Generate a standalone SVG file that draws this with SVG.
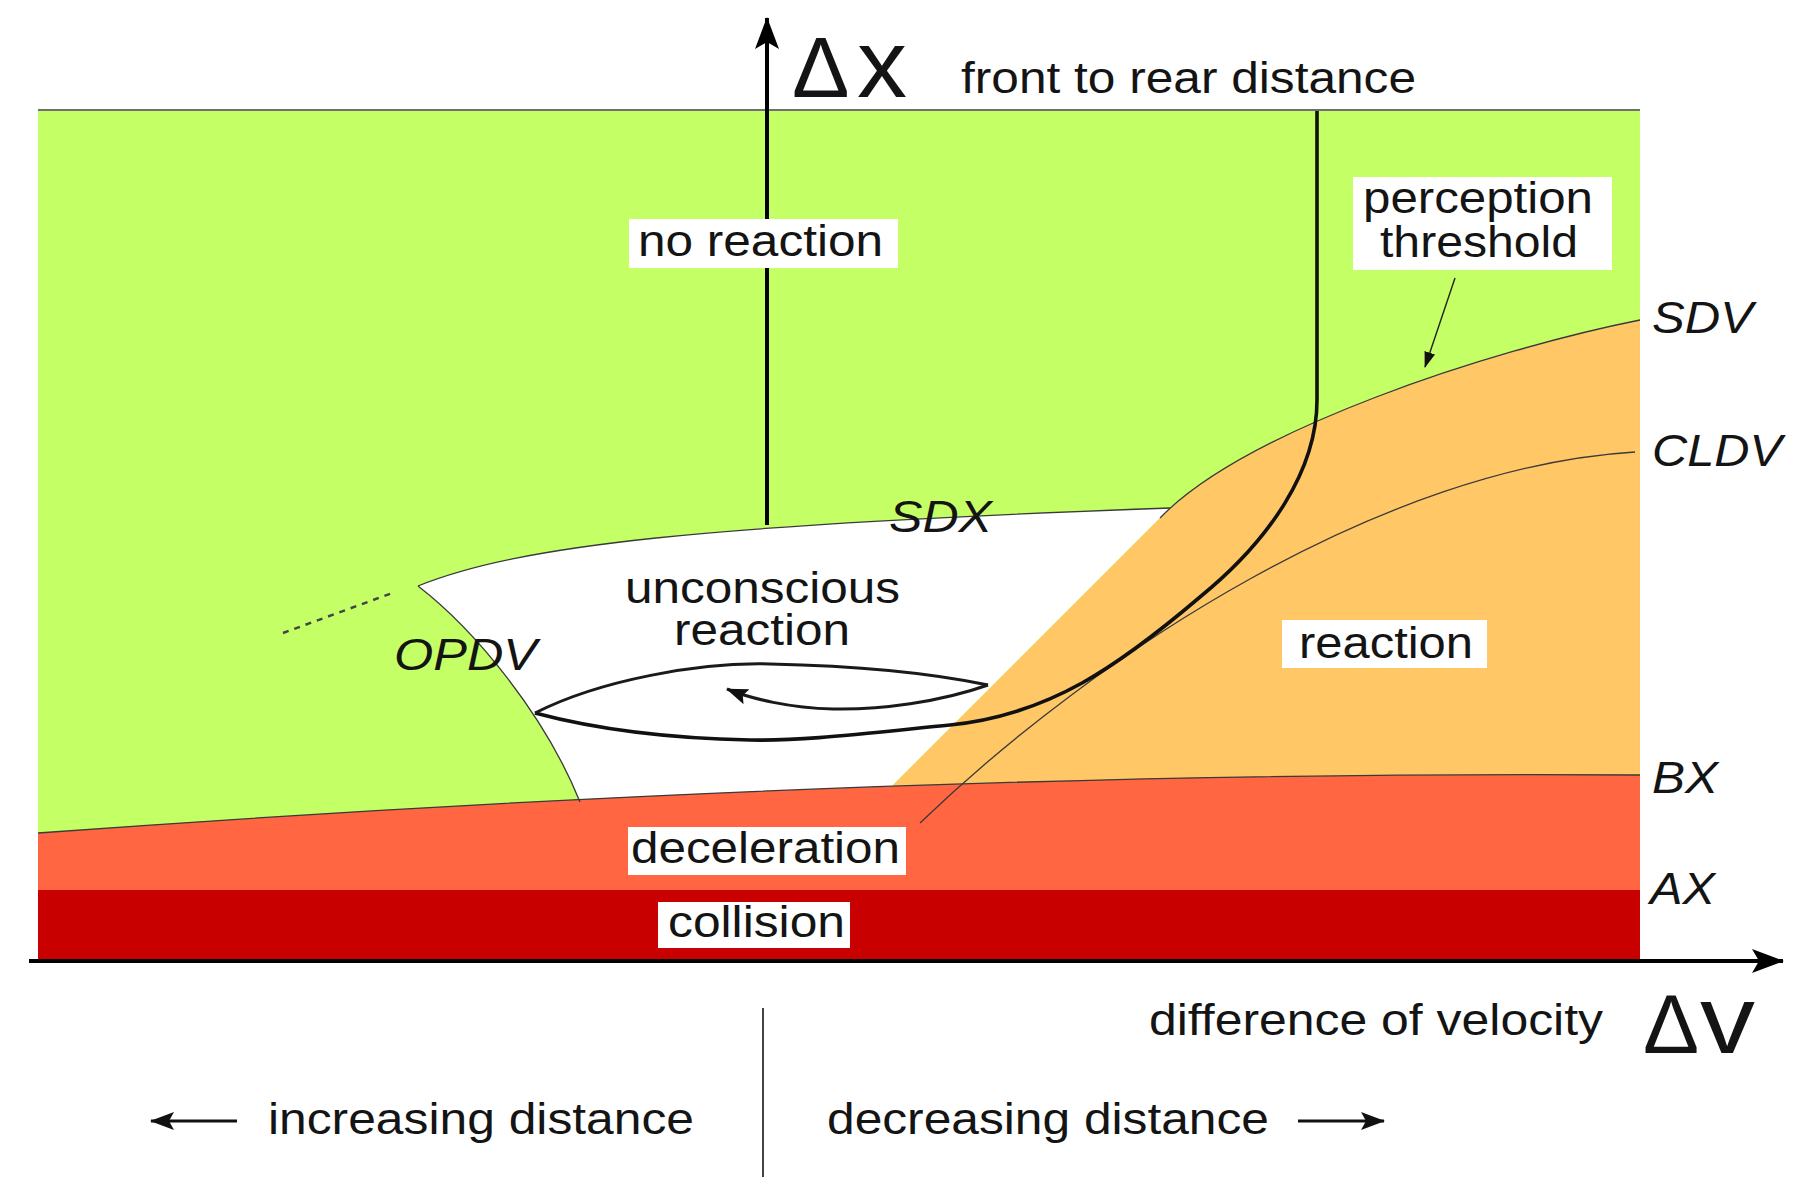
<svg xmlns="http://www.w3.org/2000/svg" width="1814" height="1197" viewBox="0 0 1814 1197">
<defs>
<style>
.t{font-family:"Liberation Sans",Arial,sans-serif;font-size:45px;fill:#141414}
.i{font-style:italic}
.box{fill:#ffffff}
.edge{fill:none;stroke:#3a3a3a;stroke-width:1.3}
.thick{fill:none;stroke:#111;stroke-width:3.6}
.lens{fill:none;stroke:#1a1a1a;stroke-width:3}
.axis{fill:none;stroke:#000;stroke-width:4}
</style>
<marker id="axh" viewBox="0 0 32 24" refX="31" refY="12" markerWidth="32" markerHeight="24" markerUnits="userSpaceOnUse" orient="auto">
<path d="M0,0 L32,12 L0,24 L7,12 Z" fill="#000"/>
</marker>
<marker id="mh" viewBox="0 0 22 16" refX="21" refY="8" markerWidth="22" markerHeight="16" markerUnits="userSpaceOnUse" orient="auto">
<path d="M0,0 L22,8 L0,16 L4,8 Z" fill="#111"/>
</marker>
<marker id="sh" viewBox="0 0 16 11" refX="15" refY="5.5" markerWidth="16" markerHeight="11" markerUnits="userSpaceOnUse" orient="auto">
<path d="M0,0 L16,5.5 L0,11 Z" fill="#111"/>
</marker>
<marker id="bh" viewBox="0 0 24 18" refX="23" refY="9" markerWidth="24" markerHeight="18" markerUnits="userSpaceOnUse" orient="auto">
<path d="M0,0 L24,9 L0,18 L5,9 Z" fill="#111"/>
</marker>
</defs>

<g id="regions">
<rect id="no-reaction-area" x="38" y="110" width="1602" height="852" fill="#C4FF66"/>
<line x1="38" y1="110" x2="1640" y2="110" stroke="#707070" stroke-width="2"/>
<path id="unconscious-area" d="M418,586 C520,545 700,525 1170,508 L866,812 L582,812 L580,802 C545,715 475,630 418,586 Z" fill="#ffffff"/>
<path id="reaction-area" d="M866,812 L1160,518 C1245,430 1490,350 1640,320 L1640,812 Z" fill="#FFC766"/>
<path id="deceleration-area" d="M38,833 Q900,770 1640,775 L1640,962 L38,962 Z" fill="#FF6641"/>
<rect id="collision-area" x="38" y="890" width="1602" height="72" fill="#C80000"/>
</g>

<g id="boundaries">
<path id="SDX-line" class="edge" d="M418,586 C520,545 700,525 1170,508"/>
<path id="OPDV-line" class="edge" d="M418,586 C475,630 545,715 580,802"/>
<path id="SDV-line" class="edge" d="M1160,518 C1245,430 1490,350 1640,320"/>
<path id="BX-line" class="edge" d="M38,833 Q900,770 1640,775"/>
<path id="CLDV-line" class="edge" stroke-width="1.5" d="M920,823 C1100,650 1385,467 1635,452"/>
<path id="OPDV-ext" fill="none" stroke="#444" stroke-width="2.5" stroke-dasharray="6 6" d="M283,633 L395,592"/>
</g>

<g id="connectors">
<path id="threshold-path" class="thick" d="M1317,111 L1317,400 C1317,470 1270,540 1200,597 C1120,665 1050,715 950,725 C850,735 800,741 750,740 C650,738 580,725 535,713"/>
<path id="lens-top" class="lens" d="M535,713 C600,680 700,662 770,664 C870,666 940,675 988,685"/>
<path id="lens-arrow" class="lens" d="M988,685 C940,702 880,710 833,709 C790,708 752,699 727,689" marker-end="url(#mh)"/>
<path id="perception-arrow" fill="none" stroke="#222" stroke-width="1.4" d="M1455,278 L1425,367" marker-end="url(#sh)"/>
<path id="y-axis" class="axis" stroke-width="3.5" d="M767,525 L767,18" marker-end="url(#axh)"/>
<path id="x-axis" class="axis" d="M29,961 L1783,961" marker-end="url(#axh)"/>
<line id="separator" x1="763" y1="1008" x2="763" y2="1177" stroke="#444" stroke-width="2"/>
<path id="arrow-left" fill="none" stroke="#111" stroke-width="3" d="M237,1121 L151,1121" marker-end="url(#bh)"/>
<path id="arrow-right" fill="none" stroke="#111" stroke-width="3" d="M1298,1121 L1384,1121" marker-end="url(#bh)"/>
</g>

<g id="label-no-reaction">
<rect class="box" x="629" y="219" width="269" height="49"/>
<text class="t" x="638" y="256" textLength="245" lengthAdjust="spacingAndGlyphs">no reaction</text>
</g>
<g id="label-perception-threshold">
<rect class="box" x="1353" y="177" width="259" height="93"/>
<text class="t" x="1363" y="213" textLength="230" lengthAdjust="spacingAndGlyphs">perception</text>
<text class="t" x="1380" y="257" textLength="198" lengthAdjust="spacingAndGlyphs">threshold</text>
</g>
<g id="label-unconscious-reaction">
<text class="t" x="625" y="603" textLength="275" lengthAdjust="spacingAndGlyphs">unconscious</text>
<text class="t" x="674" y="645" textLength="176" lengthAdjust="spacingAndGlyphs">reaction</text>
</g>
<g id="label-reaction">
<rect class="box" x="1282" y="620" width="205" height="48"/>
<text class="t" x="1299" y="658" textLength="174" lengthAdjust="spacingAndGlyphs">reaction</text>
</g>
<g id="label-deceleration">
<rect class="box" x="628" y="827" width="278" height="48"/>
<text class="t" x="631" y="863" textLength="269" lengthAdjust="spacingAndGlyphs">deceleration</text>
</g>
<g id="label-collision">
<rect class="box" x="658" y="902" width="192" height="46"/>
<text class="t" x="668" y="937" textLength="177" lengthAdjust="spacingAndGlyphs">collision</text>
</g>

<g id="curve-labels">
<text class="t i" x="889" y="532" textLength="103" lengthAdjust="spacingAndGlyphs">SDX</text>
<text class="t i" x="394" y="670" textLength="143" lengthAdjust="spacingAndGlyphs">OPDV</text>
<text class="t i" x="1652" y="333" textLength="101" lengthAdjust="spacingAndGlyphs">SDV</text>
<text class="t i" x="1652" y="466" textLength="130" lengthAdjust="spacingAndGlyphs">CLDV</text>
<text class="t i" x="1652" y="793" textLength="66" lengthAdjust="spacingAndGlyphs">BX</text>
<text class="t i" x="1650" y="904" textLength="65" lengthAdjust="spacingAndGlyphs">AX</text>
</g>

<g id="axis-labels">
<text class="t" x="792" y="97" style="font-size:86px">Δ</text>
<text class="t" x="857" y="97" style="font-size:96px" textLength="50" lengthAdjust="spacingAndGlyphs">x</text>
<text class="t" x="961" y="93" textLength="455" lengthAdjust="spacingAndGlyphs">front to rear distance</text>
<text class="t" x="1149" y="1035" textLength="454" lengthAdjust="spacingAndGlyphs">difference of velocity</text>
<text class="t" x="1643" y="1053" style="font-size:84px">Δ</text>
<text class="t" x="1700" y="1053" style="font-size:96px" textLength="55" lengthAdjust="spacingAndGlyphs">v</text>
<text class="t" x="268" y="1134" textLength="426" lengthAdjust="spacingAndGlyphs">increasing distance</text>
<text class="t" x="827" y="1134" textLength="442" lengthAdjust="spacingAndGlyphs">decreasing distance</text>
</g>
</svg>
